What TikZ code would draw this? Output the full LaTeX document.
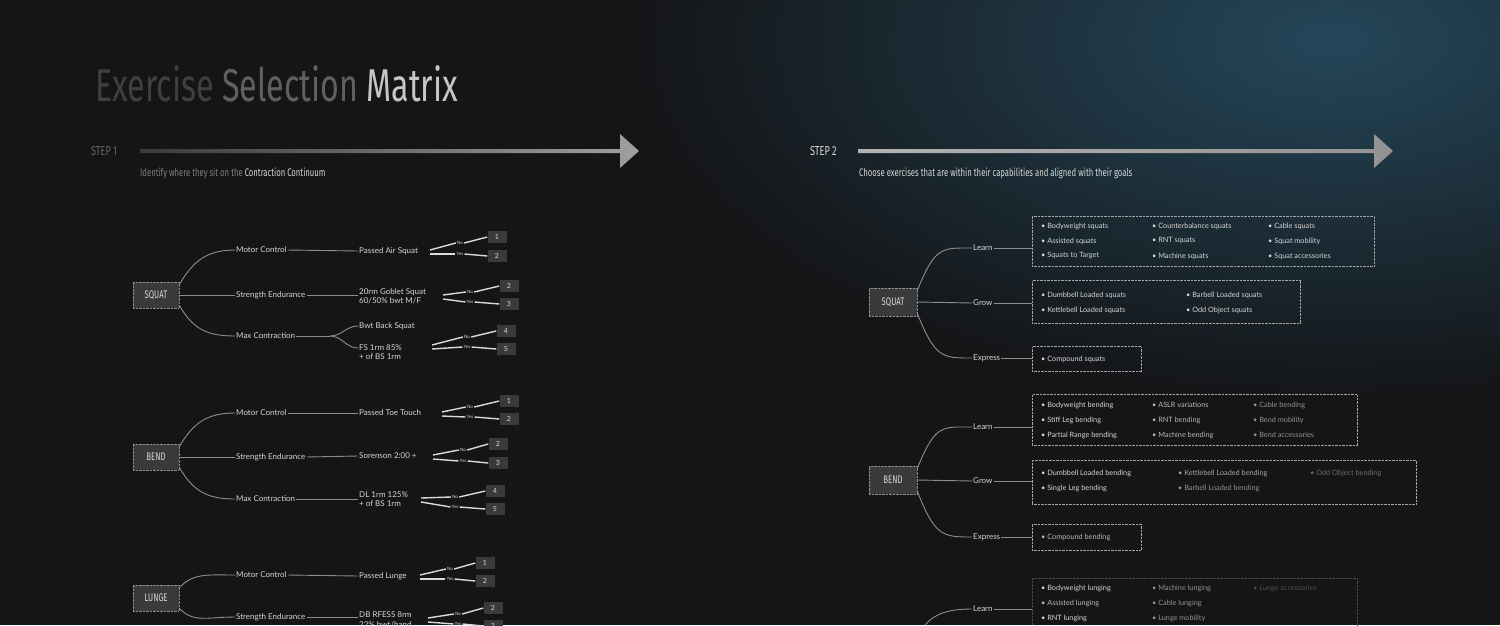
\documentclass[tikz,border=0pt]{standalone}
\usepackage{fontspec}
\setmainfont{Lato}
\newfontfamily\cond[FakeStretch=0.7]{Fira Sans}
\definecolor{bg}{HTML}{141517}
\definecolor{teal1}{HTML}{24475A}
\definecolor{txt}{HTML}{D6D6D6}
\definecolor{lnc}{HTML}{8E8E8E}
\definecolor{boxf}{HTML}{383A3C}
\tikzset{
 lab/.style={text=txt,font=\fontsize{8}{9.5}\selectfont,inner sep=1pt},
 itm/.style={text=txt,font=\fontsize{7.3}{9}\selectfont,inner sep=0pt,anchor=west},
 yn/.style={text=txt,font=\fontsize{4.5}{5}\selectfont,inner sep=1pt},
 catbox/.style={draw=lnc,densely dotted,fill=boxf,text=txt,font=\cond\fontsize{11}{12}\selectfont,minimum width=46pt,minimum height=26pt,inner sep=0pt},
 numbox/.style={fill=boxf,text=txt,font=\fontsize{7}{8}\selectfont,minimum width=19pt,minimum height=12pt,inner sep=0pt},
 grp/.style={draw=lnc!80,densely dotted,anchor=west,inner sep=0pt},
 ln/.style={draw=lnc,line width=0.9pt},
 wl/.style={draw=txt!90,line width=1.4pt},
}
\newcommand\ltree[5]{%
 \node[catbox] (#1) at (156,#3) {#2};
 \node[lab,anchor=west] (#1mc) at (235,#4) {Motor Control};
 \node[lab,anchor=west] (#1se) at (235,#3) {Strength Endurance};
 \node[lab,anchor=west] (#1mx) at (235,#5) {Max Contraction};
 \draw[ln] ([yshift=-3pt]#1.north east) .. controls +(14,-24) and +(-28,0) .. (#1mc.west);
 \draw[ln] ([yshift=3pt]#1.south east) .. controls +(14,24) and +(-28,0) .. (#1mx.west);
 \draw[ln] (#1.east) -- (#1se.west);
}
\newcommand\ynbr[8]{%
 \node[yn] (#1no) at (#3,#5+6) {No};
 \node[yn] (#1ye) at (#3,#6-2) {Yes};
 \node[numbox] (#1b1) at (#4,#5) {#7};
 \node[numbox] (#1b2) at (#4,#6) {#8};
 \draw[wl] ([yshift=2pt]#2) -- (#1no.west);
 \draw[wl] ([yshift=-2pt]#2) -- (#1ye.west);
 \draw[wl] (#1no.east) -- (#1b1.west);
 \draw[wl] (#1ye.east) -- (#1b2.west);
}
\newcommand\rtree[6]{%
 \node[catbox,minimum width=48pt,minimum height=28pt] (#1) at (893,#3) {#2};
 \node[lab,anchor=west] (#1l) at (972,#4) {Learn};
 \node[lab,anchor=west] (#1g) at (972,#5) {Grow};
 \node[lab,anchor=west] (#1e) at (972,#6) {Express};
 \draw[ln] ([yshift=-3pt]#1.north east) .. controls +(18,-45) and +(-30,0) .. (#1l.west);
 \draw[ln] ([yshift=3pt]#1.south east) .. controls +(18,45) and +(-30,0) .. (#1e.west);
 \draw[ln] (#1.east) -- (#1g.west);
}
\newcommand\itm[5][txt]{\node[itm,text=#1] (#2) at (#3,#4) {• #5};}
\begin{document}
\begin{tikzpicture}[x=1pt,y=-1pt]
\useasboundingbox (0,0) rectangle (1500,625);
\fill[bg] (0,0) rectangle (1500,625);
\shade[inner color=teal1,outer color=bg] (1330,40) ellipse (700 and 360);
% title
\node[anchor=west,font=\cond\fontsize{46}{50}\selectfont,inner sep=0pt] (title) at (95,84) {\textcolor{gray!40!bg}{Exercise} \textcolor{gray!70!bg}{Selection} \textcolor{gray!45}{Matrix}};
% step 1
\node[anchor=west,font=\cond\fontsize{13}{14}\selectfont,text=gray!75!bg,inner sep=0pt] (st1) at (91,151) {STEP 1};
\shade[left color=gray!35!bg,right color=gray!75] (140,149) -- (620,149) -- (620,134) -- (639,151) -- (620,168) -- (620,153) -- (140,153) -- cycle;
\node[anchor=west,font=\cond\fontsize{11}{12}\selectfont,inner sep=0pt] (sub1) at (140,173) {\textcolor{gray}{Identify where they sit on the} \textcolor{txt}{Contraction Continuum}};
% step 2
\node[anchor=west,font=\cond\fontsize{13}{14}\selectfont,text=txt,inner sep=0pt] (st2) at (810,151) {STEP 2};
\shade[left color=gray!60,right color=gray!85] (858,149) -- (1374,149) -- (1374,134) -- (1393,151) -- (1374,168) -- (1374,153) -- (858,153) -- cycle;
\node[anchor=west,font=\cond\fontsize{11}{12}\selectfont,text=txt,inner sep=0pt] (sub2) at (859,173) {Choose exercises that are within their capabilities and aligned with their goals};
% ===== LEFT: SQUAT
\ltree{sq}{SQUAT}{295}{250}{336}
\node[lab,anchor=west] (sqa) at (358,251) {Passed Air Squat};
\node[lab,anchor=west,align=left] (sqb) at (358,296) {20rm Goblet Squat\\60/50\% bwt M/F};
\coordinate (sqj) at (330,336);
\node[lab,anchor=west] (sqc1) at (358,326) {Bwt Back Squat};
\node[lab,anchor=west,align=left] (sqc2) at (358,352) {FS 1rm 85\%\\+ of BS 1rm};
\draw[ln] (sqmc.east) -- (sqa.west);
\draw[ln] (sqse.east) -- (sqse.east -| sqb.west);
\draw[ln] (sqmx.east) -- (sqj);
\draw[ln] (sqj) .. controls +(12,0) and +(-12,0) .. (sqc1.west);
\draw[ln] (sqj) .. controls +(12,0) and +(-12,0) .. ([yshift=4pt]sqc2.west);
\coordinate (sqas) at (430,252);
\coordinate (sqbs) at (443,297);
\coordinate (sqcs) at (432,347);
\ynbr{sqa}{sqas}{460}{497}{237}{256}{1}{2}
\ynbr{sqb}{sqbs}{470}{509}{286}{304}{2}{3}
\ynbr{sqc}{sqcs}{467}{506}{331}{349}{4}{5}
% ===== LEFT: BEND
\ltree{be}{BEND}{457}{413}{499}
\node[lab,anchor=west] (bea) at (358,413) {Passed Toe Touch};
\node[lab,anchor=west] (beb) at (358,456) {Sorenson 2:00 +};
\node[lab,anchor=west,align=left] (bec) at (358,499) {DL 1rm 125\%\\+ of BS 1rm};
\draw[ln] (bemc.east) -- (bea.west);
\draw[ln] (bese.east) -- (beb.west);
\draw[ln] (bemx.east) -- (bemx.east -| bec.west);
\coordinate (beas) at (442,414);
\coordinate (bebs) at (433,457);
\coordinate (becs) at (421,500);
\ynbr{bea}{beas}{470}{509}{401}{419}{1}{2}
\ynbr{beb}{bebs}{463}{498}{444}{463}{2}{3}
\ynbr{bec}{becs}{455}{495}{491}{509}{4}{5}
% ===== LEFT: LUNGE
\node[catbox] (lu) at (156,598) {LUNGE};
\node[lab,anchor=west] (lumc) at (235,575) {Motor Control};
\node[lab,anchor=west] (luse) at (235,617) {Strength Endurance};
\draw[ln] ([yshift=-3pt]lu.north east) .. controls +(14,-15) and +(-28,0) .. (lumc.west);
\draw[ln] ([yshift=3pt]lu.south east) .. controls +(14,15) and +(-28,0) .. (luse.west);
\node[lab,anchor=west] (lua) at (358,576) {Passed Lunge};
\node[lab,anchor=west,align=left] (lub) at (358,620) {DB RFESS 8rm\\22\% bwt/hand};
\draw[ln] (lumc.east) -- (lua.west);
\draw[ln] (luse.east) -- (luse.east -| lub.west);
\coordinate (luas) at (420,577);
\coordinate (lubs) at (428,620);
\ynbr{lua}{luas}{450}{485}{563}{581}{1}{2}
\ynbr{lub}{lubs}{458}{493}{608}{626}{2}{3}
% ===== RIGHT: SQUAT
\rtree{rs}{SQUAT}{302}{248}{303}{358}
\node[grp,minimum width=342pt,minimum height=50pt] (rsL) at (1032,241) {};
\node[grp,minimum width=268pt,minimum height=43pt] (rsG) at (1032,302) {};
\node[grp,minimum width=109pt,minimum height=25pt] (rsE) at (1032,359) {};
\draw[ln] (rsl.east) -- (rsl.east -| rsL.west);
\draw[ln] (rsg.east) -- (rsg.east -| rsG.west);
\draw[ln] (rse.east) -- (rse.east -| rsE.west);
\itm{a1}{1041}{226}{Bodyweight squats}
\itm{a2}{1041}{241}{Assisted squats}
\itm{a3}{1041}{256}{Squats to Target}
\itm{a4}{1152}{226}{Counterbalance squats}
\itm{a5}{1152}{241}{RNT squats}
\itm{a6}{1152}{256}{Machine squats}
\itm{a7}{1268}{226}{Cable squats}
\itm{a8}{1268}{241}{Squat mobility}
\itm{a9}{1268}{256}{Squat accessories}
\itm{b1}{1041}{295}{Dumbbell Loaded squats}
\itm{b2}{1041}{310}{Kettlebell Loaded squats}
\itm{b3}{1186}{295}{Barbell Loaded squats}
\itm{b4}{1186}{310}{Odd Object squats}
\itm{c1}{1041}{359}{Compound squats}
% ===== RIGHT: BEND
\rtree{rb}{BEND}{480}{427}{481}{537}
\node[grp,minimum width=325pt,minimum height=51pt] (rbL) at (1032,420) {};
\node[grp,minimum width=384pt,minimum height=44pt] (rbG) at (1032,482) {};
\node[grp,minimum width=109pt,minimum height=26pt] (rbE) at (1032,537) {};
\draw[ln] (rbl.east) -- (rbl.east -| rbL.west);
\draw[ln] (rbg.east) -- (rbg.east -| rbG.west);
\draw[ln] (rbe.east) -- (rbe.east -| rbE.west);
\itm{d1}{1041}{405}{Bodyweight bending}
\itm{d2}{1041}{420}{Stiff Leg bending}
\itm{d3}{1041}{435}{Partial Range bending}
\itm[txt!85!bg]{d4}{1152}{405}{ASLR variations}
\itm[txt!85!bg]{d5}{1152}{420}{RNT bending}
\itm[txt!85!bg]{d6}{1152}{435}{Machine bending}
\itm[txt!65!bg]{d7}{1253}{405}{Cable bending}
\itm[txt!65!bg]{d8}{1253}{420}{Bend mobility}
\itm[txt!65!bg]{d9}{1253}{435}{Bend accessories}
\itm{e1}{1041}{473}{Dumbbell Loaded bending}
\itm{e2}{1041}{488}{Single Leg bending}
\itm[txt!75!bg]{e3}{1178}{473}{Kettlebell Loaded bending}
\itm[txt!65!bg]{e4}{1178}{488}{Barbell Loaded bending}
\itm[txt!45!bg]{e5}{1310}{473}{Odd Object bending}
\itm[txt!85!bg]{f1}{1041}{537}{Compound bending}
% ===== RIGHT: LUNGE (partial)
\coordinate (rlu) at (925,625);
\node[lab,anchor=west] (rll) at (972,609) {Learn};
\node[grp,draw=lnc!45!bg,minimum width=325pt,minimum height=60pt,anchor=north west] (rlL) at (1032,578) {};
\draw[ln] (rlu) .. controls +(10,-12) and +(-22,0) .. (rll.west);
\draw[ln] (rll.east) -- (rll.east -| rlL.west);
\itm{g1}{1041}{588}{Bodyweight lunging}
\itm[txt!85!bg]{g2}{1041}{603}{Assisted lunging}
\itm{g3}{1041}{618}{RNT lunging}
\itm[txt!65!bg]{g4}{1152}{588}{Machine lunging}
\itm[txt!65!bg]{g5}{1152}{603}{Cable lunging}
\itm[txt!65!bg]{g6}{1152}{618}{Lunge mobility}
\itm[txt!30!bg]{g7}{1253}{588}{Lunge accessories}
\end{tikzpicture}
\end{document}
